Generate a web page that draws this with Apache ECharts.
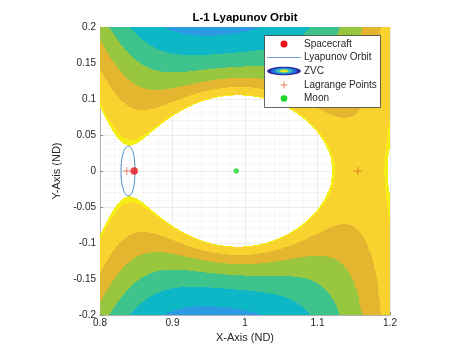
<!DOCTYPE html>
<html>
<head>
<meta charset="utf-8">
<script src="https://cdn.jsdelivr.net/npm/echarts@6/dist/echarts.min.js"></script>
<style>
html,body{margin:0;padding:0;background:#fff;}
#c{width:474px;height:355px;}
</style>
</head>
<body>
<div id="c"></div>
<script>
// ---- data ----
const titleText = 'L-1 Lyapunov Orbit';
const xTicks = [0.8, 0.9, 1.0, 1.1, 1.2];
const yTicks = [-0.2, -0.15, -0.1, -0.05, 0, 0.05, 0.1, 0.15, 0.2];
const massRatio = 0.01215;             // Earth-Moon mu
const zvcLevels = [3.06, 3.08, 3.10, 3.12, 3.14, 3.16, 3.1806, 3.1832]; // Jacobi levels; above last = allowed (white)
const zvcColors = ['#2B9AE2', '#0DB7C6', '#3EC38D', '#98C63F', '#E4B52E', '#F8D22E', '#F4EE14'];
const spacecraft = [[0.8472, 0]];
const moon = [[0.98785, 0]];
const lagrangePoints = [[0.83692, 0], [1.15568, 0]];
const orbitPts = [
  [0.8483, 0], [0.8476, 0.014], [0.8458, 0.025], [0.8428, 0.032], [0.8390, 0.0345],
  [0.8352, 0.032], [0.8320, 0.025], [0.8298, 0.014], [0.8290, 0],
  [0.8298, -0.014], [0.8320, -0.025], [0.8352, -0.032], [0.8390, -0.0345],
  [0.8428, -0.032], [0.8458, -0.025], [0.8476, -0.014], [0.8483, 0]
];
const legendNames = ['Spacecraft', 'Lyapunov Orbit', 'ZVC', 'Lagrange Points', 'Moon'];

// ---- zero velocity field (Jacobi constant of the CR3BP) ----
function jacobi(x, y) {
  const r1 = Math.hypot(x + massRatio, y);
  const r2 = Math.hypot(x - 1 + massRatio, y);
  return x * x + y * y + 2 * (1 - massRatio) / r1 + 2 * massRatio / r2;
}
function band(c) {
  if (c >= zvcLevels[zvcLevels.length - 1]) return -1;
  for (let i = zvcLevels.length - 2; i >= 0; i--) if (c >= zvcLevels[i]) return i;
  return 0;
}
const xMin = xTicks[0], xMax = xTicks[xTicks.length - 1];
const yMin = yTicks[0], yMax = yTicks[yTicks.length - 1];
const NX = 580, NY = 288;
const dx = (xMax - xMin) / NX, dy = (yMax - yMin) / NY;
const runs = [];
for (let j = 0; j < NY; j++) {
  const yc = yMin + (j + 0.5) * dy;
  let start = 0, cur = band(jacobi(xMin + 0.5 * dx, yc));
  for (let i = 1; i <= NX; i++) {
    const b = i < NX ? band(jacobi(xMin + (i + 0.5) * dx, yc)) : -99;
    if (b !== cur) {
      if (cur >= 0) runs.push([xMin + start * dx, xMin + i * dx, yc, cur]);
      start = i; cur = b;
    }
  }
}

const chart = echarts.init(document.getElementById('c'), null, {renderer: 'canvas'});
const font = 'Liberation Sans, Arial, Helvetica, sans-serif';
const txt = '#262626';

const legendX = 264, legendY = 35, legendW = 116, legendH = 72;
const rowY = [44, 57.5, 71, 85, 98.5];
const legendGraphic = [
  {type: 'rect', shape: {x: legendX + 0.5, y: legendY + 0.5, width: legendW, height: legendH},
   style: {fill: '#fff', stroke: '#262626', lineWidth: 0.7}, z: 100},
  {type: 'circle', shape: {cx: 284, cy: rowY[0], r: 3.5}, style: {fill: '#E8141B'}, z: 101},
  {type: 'rect', shape: {x: 267, y: rowY[1] - 0.5, width: 34, height: 1}, style: {fill: '#6E9FD0'}, z: 101},
  {type: 'ellipse', shape: {cx: 284, cy: rowY[2], rx: 17, ry: 4.3}, style: {fill: '#2A2A9E'}, z: 101},
  {type: 'ellipse', shape: {cx: 284, cy: rowY[2], rx: 13, ry: 3.2}, style: {fill: '#1F78DA'}, z: 101},
  {type: 'ellipse', shape: {cx: 284, cy: rowY[2], rx: 8.5, ry: 2.2}, style: {fill: '#3CC2B4'}, z: 101},
  {type: 'ellipse', shape: {cx: 284, cy: rowY[2], rx: 4.5, ry: 1.3}, style: {fill: '#E6E620'}, z: 101},
  {type: 'line', shape: {x1: 280.5, y1: rowY[3], x2: 287.5, y2: rowY[3]}, style: {stroke: '#E0703A', lineWidth: 0.8}, z: 101},
  {type: 'line', shape: {x1: 284, y1: rowY[3] - 3.5, x2: 284, y2: rowY[3] + 3.5}, style: {stroke: '#E0703A', lineWidth: 0.8}, z: 101},
  {type: 'circle', shape: {cx: 284, cy: rowY[4], r: 3.3}, style: {fill: '#22D62A'}, z: 101}
];
legendNames.forEach((n, i) => {
  legendGraphic.push({type: 'text', x: 304, y: rowY[i], z: 101,
    style: {text: n, fill: txt, font: '10px ' + font, verticalAlign: 'middle'}});
});
legendGraphic.push({type: 'text', x: 245, y: 18, z: 101,
  style: {text: titleText, fill: '#000', font: 'bold 11.5px ' + font, align: 'center', verticalAlign: 'middle'}});

chart.setOption({
  animation: false,
  backgroundColor: '#fff',
  grid: {left: 100, right: 84, top: 27, bottom: 40, containLabel: false},
  xAxis: {
    type: 'value', min: xMin, max: xMax, interval: 0.1,
    name: 'X-Axis (ND)', nameLocation: 'middle', nameGap: 15,
    nameTextStyle: {color: txt, fontSize: 11, fontFamily: font},
    axisLine: {show: true, onZero: false, lineStyle: {color: '#8a8a8a', width: 0.6}},
    axisTick: {show: true, inside: true, length: 3, lineStyle: {color: '#8a8a8a'}},
    axisLabel: {color: txt, fontSize: 10, fontFamily: font, margin: 3},
    splitLine: {show: true, lineStyle: {color: '#dedede', width: 0.6}},
    minorTick: {show: false, splitNumber: 5},
    minorSplitLine: {show: true, lineStyle: {color: '#f0f0f0', width: 0.6}}
  },
  yAxis: {
    type: 'value', min: yMin, max: yMax, interval: 0.05,
    name: 'Y-Axis (ND)', nameLocation: 'middle', nameGap: 32, nameRotate: 90,
    nameTextStyle: {color: txt, fontSize: 11, fontFamily: font},
    axisLine: {show: true, onZero: false, lineStyle: {color: '#8a8a8a', width: 0.6}},
    axisTick: {show: true, inside: true, length: 3, lineStyle: {color: '#8a8a8a'}},
    axisLabel: {color: txt, fontSize: 10, fontFamily: font, margin: 4},
    splitLine: {show: true, lineStyle: {color: '#dedede', width: 0.6}},
    minorTick: {show: false, splitNumber: 5},
    minorSplitLine: {show: true, lineStyle: {color: '#f0f0f0', width: 0.6}}
  },
  graphic: legendGraphic,
  series: [
    {
      type: 'custom', name: 'ZVC', data: runs, clip: true, z: 1,
      renderItem: function (params, api) {
        const x0 = api.value(0), x1 = api.value(1), yc = api.value(2), b = api.value(3);
        const p0 = api.coord([x0, yc + dy / 2]);
        const p1 = api.coord([x1, yc - dy / 2]);
        const left = Math.round(p0[0]), right = Math.round(p1[0]);
        const top = Math.round(p0[1]), bottom = Math.round(p1[1]);
        return {type: 'rect', silent: true,
          shape: {x: left, y: top, width: right - left, height: bottom - top},
          style: {fill: zvcColors[b], stroke: null}};
      }
    },
    {type: 'line', name: 'Lyapunov Orbit', data: orbitPts, smooth: 0.5, symbol: 'none', z: 3,
     lineStyle: {color: '#4F8CC4', width: 1}},
    {type: 'scatter', name: 'Lagrange Points', data: lagrangePoints, z: 4,
     symbol: 'path://M0,5L10,5M5,0L5,10', symbolSize: 8,
     itemStyle: {color: 'none', borderColor: '#D95319', borderWidth: 0.8}},
    {type: 'scatter', name: 'Spacecraft', data: spacecraft, symbol: 'circle', symbolSize: 7.5, z: 5,
     itemStyle: {color: '#E8141B'}},
    {type: 'scatter', name: 'Moon', data: moon, symbol: 'circle', symbolSize: 5.5, z: 5,
     itemStyle: {color: '#22D62A'}}
  ]
});
</script>
</body>
</html>
